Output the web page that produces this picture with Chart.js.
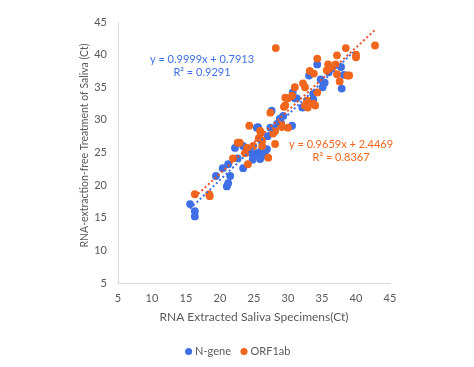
<!DOCTYPE html>
<html><head><meta charset="utf-8">
<script src="https://cdn.jsdelivr.net/npm/chart.js@4"></script>
<style>html,body{margin:0;padding:0;background:#fff;}#wrap{width:474px;height:367px;}</style>
</head><body><div id="wrap"><canvas id="c" width="474" height="367"></canvas></div>
<script>
const seriesNames = ['N-gene', 'ORF1ab'];
const axisTicks = [5, 10, 15, 20, 25, 30, 35, 40, 45];
const xTitle = 'RNA Extracted Saliva Specimens(Ct)';
const yTitle = 'RNA-extraction-free Treatment of Saliva (Ct)';

const nGeneX = [15.6,16.3,16.3,19.4,20.4,21.2,21.5,21.2,21.0,22.6,23.4,24.7,25.4,22.2,23.4,25.6,26.3,25.9,26.9,25.4,25.6,27.4,27.6,28.4,28.8,29.3,30.6,31.0,30.7,31.3,32.1,33.7,33.7,33.7,33.1,34.3,35.4,35.1,37.8,37.9,38.2,32.5,29.0,26.0,24.2,27.0,34.8,36.0,24.8,26.6];
const nGeneY = [17.1,16.0,15.2,21.4,22.6,23.2,21.4,20.3,19.8,24.1,22.6,24.8,24.9,25.7,26.0,24.6,24.5,24.0,25.5,28.8,28.9,28.8,31.4,29.4,30.2,30.6,29.1,33.3,34.2,33.3,31.9,33.0,33.1,34.0,36.8,38.5,35.7,35.0,38.1,34.8,36.9,32.0,29.5,25.2,25.5,27.5,36.2,37.3,23.9,25.1];

const orfX = [16.3,18.4,18.5,21.9,22.9,24.1,24.0,22.6,23.7,24.3,25.9,25.7,26.2,27.4,28.1,29.1,30.0,29.6,30.0,30.6,32.8,32.9,32.5,34.0,28.2,38.5,42.8,40.0,37.2,38.7,37.6,37.2,34.3,35.9,35.7,33.8,32.2,34.3,29.6,33.7,32.5,26.0,27.8,29.0,24.9,26.2,28.1,27.1,39.0,40.0,36.5,31.0,33.2,29.4,37.0];
const orfY = [18.6,18.6,18.3,24.1,26.5,23.2,25.7,26.5,24.9,29.1,28.3,27.2,26.8,31.1,28.3,28.9,28.8,32.2,33.3,33.7,33.0,31.9,35.0,32.2,41.0,41.0,41.4,39.6,39.9,36.8,35.9,37.0,39.4,38.5,37.6,37.1,35.6,34.2,33.4,32.5,32.2,28.0,27.9,29.3,26.0,26.0,26.3,24.2,36.8,40.0,38.0,35.0,37.5,32.0,38.5];

const nGeneFit = { slope: 0.9999, intercept: 0.7913, r2: 0.9291, xFrom: 15.6, xTo: 39.6 };
const orfFit = { slope: 0.9659, intercept: 2.4469, r2: 0.8367, xFrom: 16.3, xTo: 42.8 };

const blue = '#3E6FE5';
const orange = '#F0661C';
const textGray = '#595959';
const FONT = 'Lato, "Open Sans", sans-serif';

function pts(xs, ys) { return xs.map((x, i) => ({ x: x, y: ys[i] })); }
function fitLine(f) { return [f.xFrom, f.xTo].map(x => ({ x: x, y: f.slope * x + f.intercept })); }

const annot = {
  id: 'annot',
  afterDraw(chart) {
    const ctx = chart.ctx, xs = chart.scales.x, ys = chart.scales.y, ca = chart.chartArea;
    ctx.save();
    ctx.textAlign = 'center';
    ctx.textBaseline = 'middle';
    ctx.font = '11px ' + FONT;
    const eq = (f, color, dx, dy) => {
      const px = xs.getPixelForValue(dx), py = ys.getPixelForValue(dy);
      ctx.fillStyle = color;
      ctx.fillText('y = ' + f.slope.toFixed(4) + 'x + ' + f.intercept.toFixed(4), px, py);
      ctx.fillText('R² = ' + f.r2.toFixed(4), px, py + 13.5);
    };
    eq(nGeneFit, blue, 17.35, 39.3);
    eq(orfFit, orange, 37.8, 26.3);
    ctx.fillStyle = textGray;
    ctx.font = '12px ' + FONT;
    ctx.fillText(xTitle, (ca.left + ca.right) / 2, ca.bottom + 34);
    ctx.font = '10.5px ' + FONT;
    ctx.translate(ca.left - 33, (ca.top + ca.bottom) / 2 - 7);
    ctx.rotate(-Math.PI / 2);
    ctx.fillText(yTitle, 0, 0);
    ctx.restore();
  }
};

new Chart(document.getElementById('c'), {
  type: 'scatter',
  data: {
    datasets: [
      { label: seriesNames[0], data: pts(nGeneX, nGeneY), backgroundColor: blue, borderColor: blue, pointRadius: 3.9, pointHoverRadius: 3.9, borderWidth: 0, order: 2 },
      { label: seriesNames[1], data: pts(orfX, orfY), backgroundColor: orange, borderColor: orange, pointRadius: 3.9, pointHoverRadius: 3.9, borderWidth: 0, order: 1 },
      { label: 'trend-n', type: 'line', data: fitLine(nGeneFit), borderColor: blue, borderWidth: 2, borderDash: [2, 2.5], pointRadius: 0, fill: false, order: 0 },
      { label: 'trend-o', type: 'line', data: fitLine(orfFit), borderColor: '#E4532A', borderWidth: 2, borderDash: [2, 2.5], pointRadius: 0, fill: false, order: 0 }
    ]
  },
  options: {
    responsive: false,
    animation: false,
    events: [],
    layout: { padding: { left: 88, right: 84, top: 22, bottom: 0 } },
    scales: {
      x: {
        type: 'linear', min: 5, max: 45,
        afterBuildTicks: s => { s.ticks = axisTicks.map(v => ({ value: v })); },
        afterFit: s => { s.height = 51; },
        grid: { display: false, drawTicks: false },
        border: { display: true, color: '#D9D9D9', width: 1 },
        ticks: { color: textGray, font: { family: FONT, size: 11 }, padding: 9 }
      },
      y: {
        type: 'linear', min: 5, max: 45,
        afterBuildTicks: s => { s.ticks = axisTicks.map(v => ({ value: v })); },
        afterFit: s => { s.width = 30; },
        grid: { display: false, drawTicks: false },
        border: { display: true, color: '#D9D9D9', width: 1 },
        ticks: { color: textGray, font: { family: FONT, size: 11 }, padding: 11 }
      }
    },
    plugins: {
      tooltip: { enabled: false },
      legend: {
        position: 'bottom',
        labels: {
          filter: item => seriesNames.includes(item.text),
          sort: (a, b) => a.datasetIndex - b.datasetIndex,
          usePointStyle: true, pointStyle: 'circle', boxWidth: 2, boxHeight: 5,
          color: textGray, font: { family: FONT, size: 11 }, padding: 12
        }
      }
    }
  },
  plugins: [annot]
});
</script></body></html>
